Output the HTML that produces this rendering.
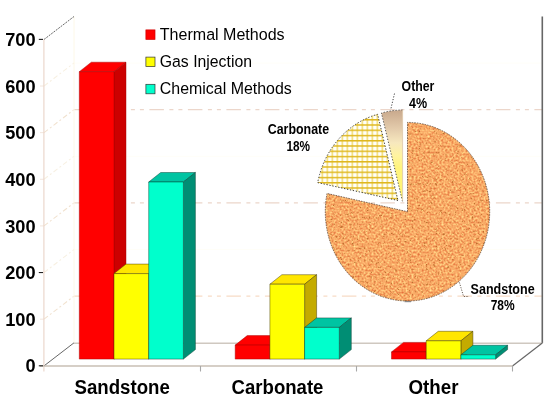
<!DOCTYPE html>
<html><head><meta charset="utf-8"><title>EOR projects by lithology</title>
<style>html,body{margin:0;padding:0;background:#fff}svg{display:block}text{font-family:"Liberation Sans",Arial,sans-serif;fill:#000}</style></head><body>
<svg width="550" height="400" viewBox="0 0 550 400">
<defs>
<filter id="sand" x="0" y="0" width="100%" height="100%" color-interpolation-filters="sRGB">
<feTurbulence type="fractalNoise" baseFrequency="0.5" numOctaves="3" seed="7" result="n"/>
<feColorMatrix in="n" type="matrix" values="0.227 0 0 0 0.861  0.650 0 0 0 0.347  0.488 0 0 0 0.161  0 0 0 0 1" result="c0"/>
<feGaussianBlur in="c0" stdDeviation="0.1" result="c"/>
<feTurbulence type="fractalNoise" baseFrequency="0.42" numOctaves="2" seed="23" result="n2"/>
<feColorMatrix in="n2" type="matrix" values="0 0 0 0 0.74  0 0 0 0 0.44  0 0 0 0 0.18  5 0 0 0 -3.2" result="d"/>
<feMerge result="m"><feMergeNode in="c"/><feMergeNode in="d"/></feMerge>
<feComposite in="m" in2="SourceGraphic" operator="in"/>
</filter>
<pattern id="grid" width="5" height="5.25" patternUnits="userSpaceOnUse" patternTransform="translate(1.6,3.55)">
<rect width="5" height="5.25" fill="#fffffa"/>
<rect width="1.3" height="5.25" fill="#f0d65c"/>
<rect width="5" height="1.45" fill="#dfb71e"/>
</pattern>
<linearGradient id="oth" x1="0" y1="0" x2="0" y2="1">
<stop offset="0" stop-color="#c8a88c"/><stop offset="0.21" stop-color="#e4ccac"/><stop offset="0.36" stop-color="#f7e8be"/><stop offset="0.5" stop-color="#fff3a0"/><stop offset="0.63" stop-color="#fff47e"/><stop offset="1" stop-color="#fff470"/>
</linearGradient>
</defs>
<rect width="550" height="400" fill="#fff"/>
<path d="M74 296.17H542.3" stroke="#f8dcc6" stroke-width="1.3" stroke-dasharray="14.5 5.5 4 5 4 5.5" stroke-dashoffset="1.6" fill="none"/>
<path d="M44 319.17L74 296.17" stroke="#f1e2d0" stroke-width="1.1" stroke-dasharray="5 2.5 2 2.5" fill="none"/>
<path d="M40 319.17H44" stroke="#f3e6dc" stroke-width="1" fill="none"/>
<path d="M74 249.54H542.3" stroke="#fffef8" stroke-width="1" stroke-dasharray="none" stroke-dashoffset="1.6" fill="none"/>
<path d="M44 272.54L74 249.54" stroke="#f7f0e2" stroke-width="1.1" stroke-dasharray="5 2.5 2 2.5" fill="none"/>
<path d="M40 272.54H44" stroke="#f3e6dc" stroke-width="1" fill="none"/>
<path d="M74 202.91H542.3" stroke="#ecd6ca" stroke-width="1.3" stroke-dasharray="14.5 5.5 4 5 4 5.5" stroke-dashoffset="1.6" fill="none"/>
<path d="M44 225.91L74 202.91" stroke="#f1e2d0" stroke-width="1.1" stroke-dasharray="5 2.5 2 2.5" fill="none"/>
<path d="M40 225.91H44" stroke="#f3e6dc" stroke-width="1" fill="none"/>
<path d="M74 156.28H542.3" stroke="#fffef8" stroke-width="1" stroke-dasharray="none" stroke-dashoffset="1.6" fill="none"/>
<path d="M44 179.28L74 156.28" stroke="#f7f0e2" stroke-width="1.1" stroke-dasharray="5 2.5 2 2.5" fill="none"/>
<path d="M40 179.28H44" stroke="#f3e6dc" stroke-width="1" fill="none"/>
<path d="M74 109.65H542.3" stroke="#ecd6ca" stroke-width="1.3" stroke-dasharray="14.5 5.5 4 5 4 5.5" stroke-dashoffset="1.6" fill="none"/>
<path d="M44 132.65L74 109.65" stroke="#f1e2d0" stroke-width="1.1" stroke-dasharray="5 2.5 2 2.5" fill="none"/>
<path d="M40 132.65H44" stroke="#f3e6dc" stroke-width="1" fill="none"/>
<path d="M74 63.02H542.3" stroke="#fffef8" stroke-width="1" stroke-dasharray="none" stroke-dashoffset="1.6" fill="none"/>
<path d="M44 86.02L74 63.02" stroke="#f7f0e2" stroke-width="1.1" stroke-dasharray="5 2.5 2 2.5" fill="none"/>
<path d="M40 86.02H44" stroke="#f3e6dc" stroke-width="1" fill="none"/>
<path d="M74 16.5V342.5" stroke="#fdf8e8" stroke-width="1" fill="none"/>
<path d="M44 39.5L74 16.5" stroke="#555" stroke-width="0.9" stroke-dasharray="2 1" fill="none"/>
<path d="M43.9 39.5V371.5" stroke="#ead6ca" stroke-width="1.15" fill="none"/>
<path d="M542.3 16.5V343" stroke="#666" stroke-width="1.6" fill="none"/>
<path d="M74 343.2H542.3" stroke="#cfc8c0" stroke-width="1.4" fill="none"/>
<path d="M44 365.9L74 342.8" stroke="#555" stroke-width="0.9" fill="none"/>
<path d="M542.3 343L512.5 366" stroke="#666" stroke-width="1.2" fill="none"/>
<path d="M40 366H512.5" stroke="#c9bfb5" stroke-width="1.4" fill="none"/>
<path d="M200.5 366V371.5" stroke="#a8a8a8" stroke-width="1.1" fill="none"/>
<path d="M356.5 366V371.5" stroke="#a8a8a8" stroke-width="1.1" fill="none"/>
<path d="M512.5 366V371.5" stroke="#a8a8a8" stroke-width="1.1" fill="none"/>
<path d="M38.8 39.39H43" stroke="#222" stroke-width="1.1" fill="none"/>
<path d="M38.8 272.54H43" stroke="#222" stroke-width="1.1" fill="none"/>
<path d="M38.8 365.8H43" stroke="#222" stroke-width="1.1" fill="none"/>
<text x="35.6" y="372.4" font-size="18.2" font-weight="bold" text-anchor="end">0</text>
<text x="35.6" y="325.77" font-size="18.2" font-weight="bold" text-anchor="end">100</text>
<text x="35.6" y="279.14" font-size="18.2" font-weight="bold" text-anchor="end">200</text>
<text x="35.6" y="232.51" font-size="18.2" font-weight="bold" text-anchor="end">300</text>
<text x="35.6" y="185.88" font-size="18.2" font-weight="bold" text-anchor="end">400</text>
<text x="35.6" y="139.25" font-size="18.2" font-weight="bold" text-anchor="end">500</text>
<text x="35.6" y="92.62" font-size="18.2" font-weight="bold" text-anchor="end">600</text>
<text x="35.6" y="45.99" font-size="18.2" font-weight="bold" text-anchor="end">700</text>
<path d="M79.3 71.7L91.3 62.2H126L114 71.7Z" fill="#ff0000" stroke="#a00000" stroke-width="0.45" stroke-linejoin="round"/>
<path d="M114 71.7L126 62.2V349.6L114 359.1Z" fill="#cc0000" stroke="#a00000" stroke-width="0.45" stroke-linejoin="round"/>
<path d="M79.3 71.7H114V359.1H79.3Z" fill="#ff0000" stroke="#a00000" stroke-width="0.45" stroke-linejoin="round"/>
<path d="M114 273.6L126 264.1H160.7L148.7 273.6Z" fill="#ffe600" stroke="#3a3000" stroke-width="0.45" stroke-linejoin="round"/>
<path d="M148.7 273.6L160.7 264.1V349.6L148.7 359.1Z" fill="#c4ab00" stroke="#3a3000" stroke-width="0.45" stroke-linejoin="round"/>
<path d="M114 273.6H148.7V359.1H114Z" fill="#ffff00" stroke="#3a3000" stroke-width="0.45" stroke-linejoin="round"/>
<path d="M148.7 182L160.7 172.5H195.4L183.4 182Z" fill="#00c4a2" stroke="#003a2c" stroke-width="0.45" stroke-linejoin="round"/>
<path d="M183.4 182L195.4 172.5V349.6L183.4 359.1Z" fill="#008e74" stroke="#003a2c" stroke-width="0.45" stroke-linejoin="round"/>
<path d="M148.7 182H183.4V359.1H148.7Z" fill="#00ffcc" stroke="#003a2c" stroke-width="0.45" stroke-linejoin="round"/>
<path d="M235.2 345.1L247.2 335.6H281.9L269.9 345.1Z" fill="#ff0000" stroke="#a00000" stroke-width="0.45" stroke-linejoin="round"/>
<path d="M269.9 345.1L281.9 335.6V349.6L269.9 359.1Z" fill="#cc0000" stroke="#a00000" stroke-width="0.45" stroke-linejoin="round"/>
<path d="M235.2 345.1H269.9V359.1H235.2Z" fill="#ff0000" stroke="#a00000" stroke-width="0.45" stroke-linejoin="round"/>
<path d="M269.9 284.2L281.9 274.7H316.6L304.6 284.2Z" fill="#ffe600" stroke="#3a3000" stroke-width="0.45" stroke-linejoin="round"/>
<path d="M304.6 284.2L316.6 274.7V349.6L304.6 359.1Z" fill="#c4ab00" stroke="#3a3000" stroke-width="0.45" stroke-linejoin="round"/>
<path d="M269.9 284.2H304.6V359.1H269.9Z" fill="#ffff00" stroke="#3a3000" stroke-width="0.45" stroke-linejoin="round"/>
<path d="M304.6 327.4L316.6 317.9H351.3L339.3 327.4Z" fill="#00c4a2" stroke="#003a2c" stroke-width="0.45" stroke-linejoin="round"/>
<path d="M339.3 327.4L351.3 317.9V349.6L339.3 359.1Z" fill="#008e74" stroke="#003a2c" stroke-width="0.45" stroke-linejoin="round"/>
<path d="M304.6 327.4H339.3V359.1H304.6Z" fill="#00ffcc" stroke="#003a2c" stroke-width="0.45" stroke-linejoin="round"/>
<path d="M391.5 351.9L403.5 342.4H438.2L426.2 351.9Z" fill="#ff0000" stroke="#a00000" stroke-width="0.45" stroke-linejoin="round"/>
<path d="M426.2 351.9L438.2 342.4V349.6L426.2 359.1Z" fill="#cc0000" stroke="#a00000" stroke-width="0.45" stroke-linejoin="round"/>
<path d="M391.5 351.9H426.2V359.1H391.5Z" fill="#ff0000" stroke="#a00000" stroke-width="0.45" stroke-linejoin="round"/>
<path d="M426.2 340.8L438.2 331.3H472.9L460.9 340.8Z" fill="#ffe600" stroke="#3a3000" stroke-width="0.45" stroke-linejoin="round"/>
<path d="M460.9 340.8L472.9 331.3V349.6L460.9 359.1Z" fill="#c4ab00" stroke="#3a3000" stroke-width="0.45" stroke-linejoin="round"/>
<path d="M426.2 340.8H460.9V359.1H426.2Z" fill="#ffff00" stroke="#3a3000" stroke-width="0.45" stroke-linejoin="round"/>
<path d="M460.9 354.8L472.9 345.3H507.6L495.6 354.8Z" fill="#00c4a2" stroke="#003a2c" stroke-width="0.45" stroke-linejoin="round"/>
<path d="M495.6 354.8L507.6 345.3V349.6L495.6 359.1Z" fill="#008e74" stroke="#003a2c" stroke-width="0.45" stroke-linejoin="round"/>
<path d="M460.9 354.8H495.6V359.1H460.9Z" fill="#00ffcc" stroke="#003a2c" stroke-width="0.45" stroke-linejoin="round"/>
<text x="122.2" y="394" font-size="19.5" font-weight="bold" text-anchor="middle" textLength="95.3" lengthAdjust="spacingAndGlyphs">Sandstone</text>
<text x="277.5" y="394" font-size="19.5" font-weight="bold" text-anchor="middle" textLength="91.8" lengthAdjust="spacingAndGlyphs">Carbonate</text>
<text x="433.5" y="394" font-size="19.5" font-weight="bold" text-anchor="middle" textLength="50" lengthAdjust="spacingAndGlyphs">Other</text>
<rect x="145.9" y="29.9" width="9.1" height="9.5" fill="#ff0000" stroke="#d00000" stroke-width="0.7"/>
<text x="159.8" y="39.8" font-size="16.3" textLength="124.8" lengthAdjust="spacingAndGlyphs">Thermal Methods</text>
<rect x="145.9" y="57.1" width="9.1" height="9.5" fill="#ffff00" stroke="#333" stroke-width="0.7"/>
<text x="159.8" y="67" font-size="16.3" textLength="92.2" lengthAdjust="spacingAndGlyphs">Gas Injection</text>
<rect x="145.9" y="84.3" width="9.1" height="9.5" fill="#00ffcc" stroke="#333" stroke-width="0.7"/>
<text x="159.8" y="94.2" font-size="16.3" textLength="132" lengthAdjust="spacingAndGlyphs">Chemical Methods</text>
<path d="M407.5 211.7L407.5 122.4A82.2 89.3 0 1 1 327.04 193.44Z" fill="#f4a45c" filter="url(#sand)"/>
<path d="M407.5 211.7L407.5 122.4A82.2 89.3 0 1 1 327.04 193.44Z" fill="none" stroke="#4a3826" stroke-width="0.7" stroke-dasharray="1.6 1"/>
<path d="M404.5 301.6H411" stroke="#888" stroke-width="1.2" fill="none"/>
<path d="M398 200.5L317.67 182.6A82.0 89.0 0 0 1 377.61 114.3Z" fill="url(#grid)" stroke="#3c3c3c" stroke-width="1" stroke-dasharray="1.3 1.7"/>
<path d="M402.5 201.3L381.42 113.07A82 91.3 0 0 1 402.5 110Z" fill="url(#oth)" />
<path d="M402.5 201.3L381.42 113.07A82 91.3 0 0 1 402.5 110" fill="none" stroke="#444" stroke-width="0.9" stroke-dasharray="1.3 1.7"/>
<path d="M402.6 110V201" fill="none" stroke="#dcc4a4" stroke-width="0.8"/>
<path d="M391 108.3L394.5 93.5" stroke="#333" stroke-width="1" stroke-dasharray="1.1 1.7" fill="none"/>
<path d="M459.4 282.4L463.6 296.5H469" stroke="#5e5044" stroke-width="0.9" stroke-dasharray="1.2 1.3" fill="none"/>
<text x="418" y="90.7" font-size="13.8" font-weight="bold" text-anchor="middle" textLength="32.8" lengthAdjust="spacingAndGlyphs">Other</text>
<text x="418" y="107.5" font-size="13.8" font-weight="bold" text-anchor="middle" textLength="18.1" lengthAdjust="spacingAndGlyphs">4%</text>
<text x="298.4" y="134" font-size="13.8" font-weight="bold" text-anchor="middle" textLength="61.4" lengthAdjust="spacingAndGlyphs">Carbonate</text>
<text x="298.2" y="150.7" font-size="13.8" font-weight="bold" text-anchor="middle" textLength="23.6" lengthAdjust="spacingAndGlyphs">18%</text>
<text x="502.6" y="293.5" font-size="13.8" font-weight="bold" text-anchor="middle" textLength="64" lengthAdjust="spacingAndGlyphs">Sandstone</text>
<text x="502.7" y="310" font-size="13.8" font-weight="bold" text-anchor="middle" textLength="24" lengthAdjust="spacingAndGlyphs">78%</text>
</svg></body></html>
